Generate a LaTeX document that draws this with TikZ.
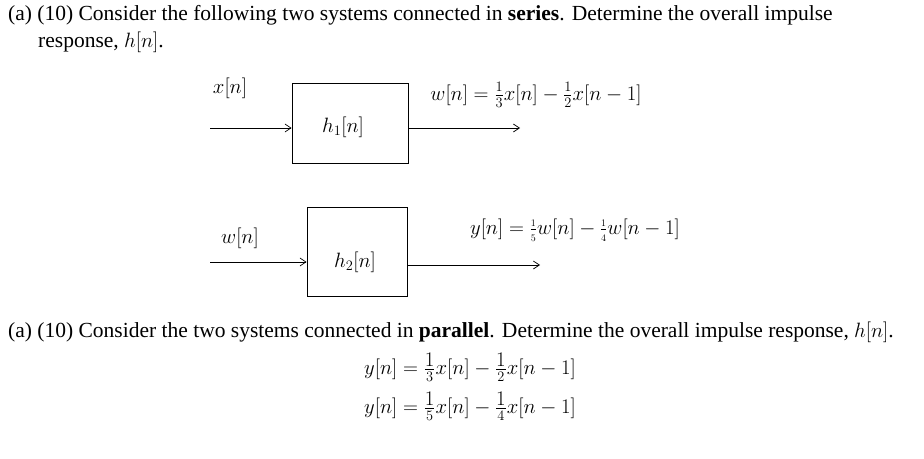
\documentclass[tikz,border=0pt]{standalone}
\usepackage{fontspec}
\setmainfont{Liberation Serif}
\usetikzlibrary{arrows.meta}
\begin{document}
\begin{tikzpicture}[x=1pt,y=-1pt,
  txt/.style={anchor=west,inner sep=0pt,font=\fontsize{21.5}{24}\selectfont},
  lbl/.style={inner sep=0pt,font=\fontsize{20}{22}\selectfont},
  sys/.style={draw,line width=0.8pt},
  sig/.style={-{Straight Barb[length=6pt,width=8pt]},line width=0.7pt}]
\useasboundingbox (0,0) rectangle (924,458);
\node[txt] (t1) at (8,15) {(a) (10) Consider the following two systems connected in \textbf{series}. Determine the overall impulse};
\node[txt] (t2) at (38,42) {response, $h[n]$.};
\node[sys,minimum width=116pt,minimum height=80pt] (b1) at (350,123) {};
\node[lbl] (h1) at (343,127) {$h_1[n]$};
\coordinate (i1) at (210,128);
\coordinate (o1) at (520,128);
\draw[sig] (i1) -- (b1.west|-i1);
\draw[sig] (b1.east|-o1) -- (o1);
\node[lbl] (x1) at (230,88) {$x[n]$};
\node[lbl] (e1) at (536,95) {$w[n]=\frac{1}{3}x[n]-\frac{1}{2}x[n-1]$};
\node[sys,minimum width=100pt,minimum height=89pt] (b2) at (357,252) {};
\node[lbl] (h2) at (355,262) {$h_2[n]$};
\coordinate (i2) at (210,262);
\coordinate (o2) at (540,265);
\draw[sig] (i2) -- (b2.west|-i2);
\draw[sig] (b2.east|-o2) -- (o2);
\node[lbl] (w2) at (240,238) {$w[n]$};
\node[lbl] (e2) at (575,230) {$y[n]=\frac{\scriptscriptstyle 1}{\scriptscriptstyle 5}w[n]-\frac{\scriptscriptstyle 1}{\scriptscriptstyle 4}w[n-1]$};
\node[txt] (t3) at (8,332) {(a) (10) Consider the two systems connected in \textbf{parallel}. Determine the overall impulse response, $h[n]$.};
\node[lbl,font=\fontsize{21}{22}\selectfont] (e3) at (470,367) {$y[n]=\frac{\textstyle 1}{3}x[n]-\frac{\textstyle 1}{2}x[n-1]$};
\node[lbl,font=\fontsize{21}{22}\selectfont] (e4) at (470,406) {$y[n]=\frac{\textstyle 1}{5}x[n]-\frac{\textstyle 1}{4}x[n-1]$};
\end{tikzpicture}
\end{document}
